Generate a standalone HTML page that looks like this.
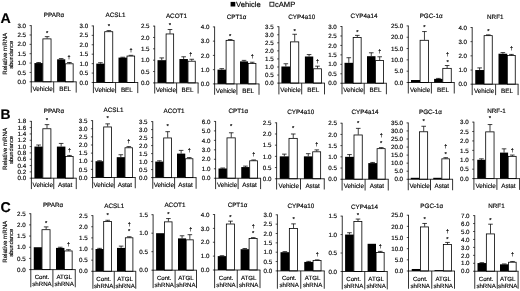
<!DOCTYPE html>
<html lang="en">
<head>
<meta charset="utf-8">
<title>Figure</title>
<style>
html,body{margin:0;padding:0;background:#fff;}
body{width:520px;height:291px;overflow:hidden;}
svg{display:block;font-family:"Liberation Sans", sans-serif;fill:#000;stroke:#000;}
text{stroke:#000;stroke-width:0.15px;text-rendering:geometricPrecision;}
rect{stroke-width:0;}
rect.w{fill:#fff;stroke-width:0.8px;}
</style>
</head>
<body>
<svg width="520" height="291" viewBox="0 0 520 291">
<defs><filter id="soft" x="0" y="0" width="520" height="291" filterUnits="userSpaceOnUse"><feGaussianBlur stdDeviation="0.3"/></filter></defs>
<rect x="0" y="0" width="520" height="291" fill="#fff" stroke="none"/>
<g filter="url(#soft)">
<g>
<text x="54" y="16.85" font-size="6.3" text-anchor="middle">PPARα</text>
<line x1="29.55" y1="81.8" x2="31.25" y2="81.8" stroke-width="0.7"/>
<text x="26.05" y="83.95" font-size="6.2" text-anchor="end">0.0</text>
<line x1="29.55" y1="72.43" x2="31.25" y2="72.43" stroke-width="0.7"/>
<text x="26.05" y="74.58" font-size="6.2" text-anchor="end">0.5</text>
<line x1="29.55" y1="63.07" x2="31.25" y2="63.07" stroke-width="0.7"/>
<text x="26.05" y="65.22" font-size="6.2" text-anchor="end">1.0</text>
<line x1="29.55" y1="53.7" x2="31.25" y2="53.7" stroke-width="0.7"/>
<text x="26.05" y="55.85" font-size="6.2" text-anchor="end">1.5</text>
<line x1="29.55" y1="44.33" x2="31.25" y2="44.33" stroke-width="0.7"/>
<text x="26.05" y="46.48" font-size="6.2" text-anchor="end">2.0</text>
<line x1="29.55" y1="34.97" x2="31.25" y2="34.97" stroke-width="0.7"/>
<text x="26.05" y="37.12" font-size="6.2" text-anchor="end">2.5</text>
<line x1="29.55" y1="25.6" x2="31.25" y2="25.6" stroke-width="0.7"/>
<text x="26.05" y="27.75" font-size="6.2" text-anchor="end">3.0</text>
<rect x="34.4" y="63.07" width="8.4" height="18.73"/>
<line x1="38.6" y1="63.07" x2="38.6" y2="62.5" stroke-width="0.75"/>
<line x1="36.3" y1="62.5" x2="40.9" y2="62.5" stroke-width="0.75"/>
<rect x="42.9" y="38.88" width="8.15" height="42.92" class="w"/>
<line x1="47.1" y1="38.53" x2="47.1" y2="36.65" stroke-width="0.75"/>
<line x1="44.8" y1="36.65" x2="49.4" y2="36.65" stroke-width="0.75"/>
<text x="47.1" y="34.95" font-size="5.8" text-anchor="middle">*</text>
<rect x="57.1" y="59.32" width="8.15" height="22.48"/>
<line x1="61.17" y1="59.32" x2="61.17" y2="58.57" stroke-width="0.75"/>
<line x1="58.88" y1="58.57" x2="63.47" y2="58.57" stroke-width="0.75"/>
<rect x="65.35" y="63.79" width="7.8" height="18.01" class="w"/>
<line x1="69.38" y1="63.44" x2="69.38" y2="62.5" stroke-width="0.75"/>
<line x1="67.08" y1="62.5" x2="71.67" y2="62.5" stroke-width="0.75"/>
<text x="68.97" y="58.85" font-size="5.4" text-anchor="middle">†</text>
<line x1="31.25" y1="25.25" x2="31.25" y2="92.6" stroke-width="0.8"/>
<line x1="30.85" y1="81.8" x2="76.6" y2="81.8" stroke-width="0.8"/>
<line x1="53.7" y1="81.8" x2="53.7" y2="92.6" stroke-width="0.8"/>
<line x1="76.2" y1="81.8" x2="76.2" y2="92.6" stroke-width="0.8"/>
<text x="42.68" y="91" font-size="6.3" text-anchor="middle">Vehicle</text>
<text x="65.15" y="91" font-size="6.3" text-anchor="middle">BEL</text>
</g>
<g>
<text x="115.6" y="16.95" font-size="6.3" text-anchor="middle">ACSL1</text>
<line x1="91.7" y1="82.5" x2="93.4" y2="82.5" stroke-width="0.7"/>
<text x="88.2" y="84.65" font-size="6.2" text-anchor="end">0.0</text>
<line x1="91.7" y1="73.07" x2="93.4" y2="73.07" stroke-width="0.7"/>
<text x="88.2" y="75.22" font-size="6.2" text-anchor="end">0.5</text>
<line x1="91.7" y1="63.63" x2="93.4" y2="63.63" stroke-width="0.7"/>
<text x="88.2" y="65.78" font-size="6.2" text-anchor="end">1.0</text>
<line x1="91.7" y1="54.2" x2="93.4" y2="54.2" stroke-width="0.7"/>
<text x="88.2" y="56.35" font-size="6.2" text-anchor="end">1.5</text>
<line x1="91.7" y1="44.77" x2="93.4" y2="44.77" stroke-width="0.7"/>
<text x="88.2" y="46.92" font-size="6.2" text-anchor="end">2.0</text>
<line x1="91.7" y1="35.33" x2="93.4" y2="35.33" stroke-width="0.7"/>
<text x="88.2" y="37.48" font-size="6.2" text-anchor="end">2.5</text>
<line x1="91.7" y1="25.9" x2="93.4" y2="25.9" stroke-width="0.7"/>
<text x="88.2" y="28.05" font-size="6.2" text-anchor="end">3.0</text>
<rect x="96.25" y="63.63" width="8.35" height="18.87"/>
<line x1="100.42" y1="63.63" x2="100.42" y2="62.69" stroke-width="0.75"/>
<line x1="98.12" y1="62.69" x2="102.72" y2="62.69" stroke-width="0.75"/>
<rect x="104.7" y="31.72" width="8.05" height="50.78" class="w"/>
<line x1="108.85" y1="31.37" x2="108.85" y2="30.62" stroke-width="0.75"/>
<line x1="106.55" y1="30.62" x2="111.15" y2="30.62" stroke-width="0.75"/>
<text x="108.85" y="28.05" font-size="5.8" text-anchor="middle">*</text>
<rect x="118.5" y="57.6" width="8.4" height="24.9"/>
<line x1="122.7" y1="57.6" x2="122.7" y2="57.22" stroke-width="0.75"/>
<line x1="120.4" y1="57.22" x2="125" y2="57.22" stroke-width="0.75"/>
<rect x="127" y="56.06" width="7.65" height="26.44" class="w"/>
<line x1="130.95" y1="55.71" x2="130.95" y2="55.33" stroke-width="0.75"/>
<line x1="128.65" y1="55.33" x2="133.25" y2="55.33" stroke-width="0.75"/>
<text x="130.95" y="52.35" font-size="5.4" text-anchor="middle">†</text>
<line x1="93.4" y1="25.55" x2="93.4" y2="93.1" stroke-width="0.8"/>
<line x1="93" y1="82.5" x2="138.15" y2="82.5" stroke-width="0.8"/>
<line x1="115.6" y1="82.5" x2="115.6" y2="93.1" stroke-width="0.8"/>
<line x1="137.75" y1="82.5" x2="137.75" y2="93.1" stroke-width="0.8"/>
<text x="104.7" y="91.7" font-size="6.3" text-anchor="middle">Vehicle</text>
<text x="126.88" y="91.7" font-size="6.3" text-anchor="middle">BEL</text>
</g>
<g>
<text x="176.4" y="17.55" font-size="6.3" text-anchor="middle">ACOT1</text>
<line x1="153" y1="82.9" x2="154.7" y2="82.9" stroke-width="0.7"/>
<text x="149.5" y="85.05" font-size="6.2" text-anchor="end">0.0</text>
<line x1="153" y1="71.54" x2="154.7" y2="71.54" stroke-width="0.7"/>
<text x="149.5" y="73.69" font-size="6.2" text-anchor="end">0.5</text>
<line x1="153" y1="60.18" x2="154.7" y2="60.18" stroke-width="0.7"/>
<text x="149.5" y="62.33" font-size="6.2" text-anchor="end">1.0</text>
<line x1="153" y1="48.82" x2="154.7" y2="48.82" stroke-width="0.7"/>
<text x="149.5" y="50.97" font-size="6.2" text-anchor="end">1.5</text>
<line x1="153" y1="37.46" x2="154.7" y2="37.46" stroke-width="0.7"/>
<text x="149.5" y="39.61" font-size="6.2" text-anchor="end">2.0</text>
<line x1="153" y1="26.1" x2="154.7" y2="26.1" stroke-width="0.7"/>
<text x="149.5" y="28.25" font-size="6.2" text-anchor="end">2.5</text>
<rect x="157.5" y="60.18" width="8.5" height="22.72"/>
<line x1="161.75" y1="60.18" x2="161.75" y2="57.91" stroke-width="0.75"/>
<line x1="159.45" y1="57.91" x2="164.05" y2="57.91" stroke-width="0.75"/>
<rect x="166.1" y="33.95" width="7.55" height="48.95" class="w"/>
<line x1="170" y1="33.6" x2="170" y2="29.51" stroke-width="0.75"/>
<line x1="167.7" y1="29.51" x2="172.3" y2="29.51" stroke-width="0.75"/>
<text x="170" y="27.1" font-size="5.8" text-anchor="middle">*</text>
<rect x="179.4" y="59.04" width="8.5" height="23.86"/>
<line x1="183.65" y1="59.04" x2="183.65" y2="56.77" stroke-width="0.75"/>
<line x1="181.35" y1="56.77" x2="185.95" y2="56.77" stroke-width="0.75"/>
<rect x="188" y="61.21" width="7.25" height="21.69" class="w"/>
<line x1="191.75" y1="60.86" x2="191.75" y2="59.27" stroke-width="0.75"/>
<line x1="189.45" y1="59.27" x2="194.05" y2="59.27" stroke-width="0.75"/>
<text x="190.85" y="56.35" font-size="5.4" text-anchor="middle">†</text>
<line x1="154.7" y1="25.75" x2="154.7" y2="93.5" stroke-width="0.8"/>
<line x1="154.3" y1="82.9" x2="198.5" y2="82.9" stroke-width="0.8"/>
<line x1="176.6" y1="82.9" x2="176.6" y2="93.5" stroke-width="0.8"/>
<line x1="198.1" y1="82.9" x2="198.1" y2="93.5" stroke-width="0.8"/>
<text x="165.85" y="92.1" font-size="6.3" text-anchor="middle">Vehicle</text>
<text x="187.55" y="92.1" font-size="6.3" text-anchor="middle">BEL</text>
</g>
<g>
<text x="236.6" y="18.75" font-size="6.3" text-anchor="middle">CPT1α</text>
<line x1="212.9" y1="83.9" x2="214.6" y2="83.9" stroke-width="0.7"/>
<text x="209.4" y="86.05" font-size="6.2" text-anchor="end">0.0</text>
<line x1="212.9" y1="69.65" x2="214.6" y2="69.65" stroke-width="0.7"/>
<text x="209.4" y="71.8" font-size="6.2" text-anchor="end">1.0</text>
<line x1="212.9" y1="55.4" x2="214.6" y2="55.4" stroke-width="0.7"/>
<text x="209.4" y="57.55" font-size="6.2" text-anchor="end">2.0</text>
<line x1="212.9" y1="41.15" x2="214.6" y2="41.15" stroke-width="0.7"/>
<text x="209.4" y="43.3" font-size="6.2" text-anchor="end">3.0</text>
<line x1="212.9" y1="26.9" x2="214.6" y2="26.9" stroke-width="0.7"/>
<text x="209.4" y="29.05" font-size="6.2" text-anchor="end">4.0</text>
<rect x="217.5" y="69.65" width="8.5" height="14.25"/>
<line x1="221.75" y1="69.65" x2="221.75" y2="68.65" stroke-width="0.75"/>
<line x1="219.45" y1="68.65" x2="224.05" y2="68.65" stroke-width="0.75"/>
<rect x="226.1" y="40.36" width="7.95" height="43.54" class="w"/>
<line x1="230.2" y1="40.01" x2="230.2" y2="39.58" stroke-width="0.75"/>
<line x1="227.9" y1="39.58" x2="232.5" y2="39.58" stroke-width="0.75"/>
<text x="230.2" y="37.85" font-size="5.8" text-anchor="middle">*</text>
<rect x="240" y="61.39" width="8.1" height="22.52"/>
<line x1="244.05" y1="61.39" x2="244.05" y2="60.39" stroke-width="0.75"/>
<line x1="241.75" y1="60.39" x2="246.35" y2="60.39" stroke-width="0.75"/>
<rect x="248.2" y="63.59" width="7.7" height="20.31" class="w"/>
<line x1="252.18" y1="63.24" x2="252.18" y2="62.24" stroke-width="0.75"/>
<line x1="249.88" y1="62.24" x2="254.48" y2="62.24" stroke-width="0.75"/>
<text x="252.18" y="57.75" font-size="5.4" text-anchor="middle">†</text>
<line x1="214.6" y1="26.55" x2="214.6" y2="94.75" stroke-width="0.8"/>
<line x1="214.2" y1="83.9" x2="259.4" y2="83.9" stroke-width="0.8"/>
<line x1="236.9" y1="83.9" x2="236.9" y2="94.75" stroke-width="0.8"/>
<line x1="259" y1="83.9" x2="259" y2="94.75" stroke-width="0.8"/>
<text x="225.95" y="93.1" font-size="6.3" text-anchor="middle">Vehicle</text>
<text x="248.15" y="93.1" font-size="6.3" text-anchor="middle">BEL</text>
</g>
<g>
<text x="301.8" y="18.65" font-size="6.3" text-anchor="middle">CYP4a10</text>
<line x1="277.2" y1="83.1" x2="278.9" y2="83.1" stroke-width="0.7"/>
<text x="273.7" y="85.25" font-size="6.2" text-anchor="end">0.0</text>
<line x1="277.2" y1="75.04" x2="278.9" y2="75.04" stroke-width="0.7"/>
<text x="273.7" y="77.19" font-size="6.2" text-anchor="end">0.5</text>
<line x1="277.2" y1="66.99" x2="278.9" y2="66.99" stroke-width="0.7"/>
<text x="273.7" y="69.14" font-size="6.2" text-anchor="end">1.0</text>
<line x1="277.2" y1="58.93" x2="278.9" y2="58.93" stroke-width="0.7"/>
<text x="273.7" y="61.08" font-size="6.2" text-anchor="end">1.5</text>
<line x1="277.2" y1="50.87" x2="278.9" y2="50.87" stroke-width="0.7"/>
<text x="273.7" y="53.02" font-size="6.2" text-anchor="end">2.0</text>
<line x1="277.2" y1="42.81" x2="278.9" y2="42.81" stroke-width="0.7"/>
<text x="273.7" y="44.96" font-size="6.2" text-anchor="end">2.5</text>
<line x1="277.2" y1="34.76" x2="278.9" y2="34.76" stroke-width="0.7"/>
<text x="273.7" y="36.91" font-size="6.2" text-anchor="end">3.0</text>
<line x1="277.2" y1="26.7" x2="278.9" y2="26.7" stroke-width="0.7"/>
<text x="273.7" y="28.85" font-size="6.2" text-anchor="end">3.5</text>
<rect x="281.4" y="66.5" width="8.9" height="16.6"/>
<line x1="285.85" y1="66.5" x2="285.85" y2="63.76" stroke-width="0.75"/>
<line x1="283.55" y1="63.76" x2="288.15" y2="63.76" stroke-width="0.75"/>
<rect x="290.4" y="41.88" width="8.35" height="41.22" class="w"/>
<line x1="294.7" y1="41.53" x2="294.7" y2="34.27" stroke-width="0.75"/>
<line x1="292.4" y1="34.27" x2="297" y2="34.27" stroke-width="0.75"/>
<text x="294.7" y="32.85" font-size="5.8" text-anchor="middle">*</text>
<rect x="304.9" y="56.51" width="8.35" height="26.59"/>
<line x1="309.07" y1="56.51" x2="309.07" y2="54.58" stroke-width="0.75"/>
<line x1="306.77" y1="54.58" x2="311.38" y2="54.58" stroke-width="0.75"/>
<rect x="313.35" y="68.79" width="8.05" height="14.31" class="w"/>
<line x1="317.5" y1="68.44" x2="317.5" y2="66.18" stroke-width="0.75"/>
<line x1="315.2" y1="66.18" x2="319.8" y2="66.18" stroke-width="0.75"/>
<text x="317.5" y="62.55" font-size="5.4" text-anchor="middle">†</text>
<line x1="278.9" y1="26.35" x2="278.9" y2="94.4" stroke-width="0.8"/>
<line x1="278.5" y1="83.1" x2="324.9" y2="83.1" stroke-width="0.8"/>
<line x1="301.7" y1="83.1" x2="301.7" y2="94.4" stroke-width="0.8"/>
<line x1="324.5" y1="83.1" x2="324.5" y2="94.4" stroke-width="0.8"/>
<text x="290.5" y="92.3" font-size="6.3" text-anchor="middle">Vehicle</text>
<text x="313.3" y="92.3" font-size="6.3" text-anchor="middle">BEL</text>
</g>
<g>
<text x="364.1" y="18.3" font-size="6.3" text-anchor="middle">CYP4a14</text>
<line x1="340.3" y1="83.25" x2="342" y2="83.25" stroke-width="0.7"/>
<text x="336.8" y="85.4" font-size="6.2" text-anchor="end">0.0</text>
<line x1="340.3" y1="73.79" x2="342" y2="73.79" stroke-width="0.7"/>
<text x="336.8" y="75.94" font-size="6.2" text-anchor="end">0.5</text>
<line x1="340.3" y1="64.33" x2="342" y2="64.33" stroke-width="0.7"/>
<text x="336.8" y="66.48" font-size="6.2" text-anchor="end">1.0</text>
<line x1="340.3" y1="54.88" x2="342" y2="54.88" stroke-width="0.7"/>
<text x="336.8" y="57.02" font-size="6.2" text-anchor="end">1.5</text>
<line x1="340.3" y1="45.42" x2="342" y2="45.42" stroke-width="0.7"/>
<text x="336.8" y="47.57" font-size="6.2" text-anchor="end">2.0</text>
<line x1="340.3" y1="35.96" x2="342" y2="35.96" stroke-width="0.7"/>
<text x="336.8" y="38.11" font-size="6.2" text-anchor="end">2.5</text>
<line x1="340.3" y1="26.5" x2="342" y2="26.5" stroke-width="0.7"/>
<text x="336.8" y="28.65" font-size="6.2" text-anchor="end">3.0</text>
<rect x="344.5" y="62.82" width="8.6" height="20.43"/>
<line x1="348.8" y1="62.82" x2="348.8" y2="57.71" stroke-width="0.75"/>
<line x1="346.5" y1="57.71" x2="351.1" y2="57.71" stroke-width="0.75"/>
<rect x="353.2" y="37.44" width="7.95" height="45.81" class="w"/>
<line x1="357.3" y1="37.09" x2="357.3" y2="35.39" stroke-width="0.75"/>
<line x1="355" y1="35.39" x2="359.6" y2="35.39" stroke-width="0.75"/>
<text x="357.3" y="33.6" font-size="5.8" text-anchor="middle">*</text>
<rect x="367" y="56.2" width="8.5" height="27.05"/>
<line x1="371.25" y1="56.2" x2="371.25" y2="52.79" stroke-width="0.75"/>
<line x1="368.95" y1="52.79" x2="373.55" y2="52.79" stroke-width="0.75"/>
<rect x="375.6" y="60.52" width="7.95" height="22.73" class="w"/>
<line x1="379.7" y1="60.17" x2="379.7" y2="56.77" stroke-width="0.75"/>
<line x1="377.4" y1="56.77" x2="382" y2="56.77" stroke-width="0.75"/>
<text x="379.7" y="52.55" font-size="5.4" text-anchor="middle">†</text>
<line x1="342" y1="26.15" x2="342" y2="94.25" stroke-width="0.8"/>
<line x1="341.6" y1="83.25" x2="386.8" y2="83.25" stroke-width="0.8"/>
<line x1="364.2" y1="83.25" x2="364.2" y2="94.25" stroke-width="0.8"/>
<line x1="386.4" y1="83.25" x2="386.4" y2="94.25" stroke-width="0.8"/>
<text x="353.3" y="92.45" font-size="6.3" text-anchor="middle">Vehicle</text>
<text x="375.5" y="92.45" font-size="6.3" text-anchor="middle">BEL</text>
</g>
<g>
<text x="431.1" y="17.55" font-size="6.3" text-anchor="middle">PGC-1α</text>
<line x1="406.6" y1="82.5" x2="408.3" y2="82.5" stroke-width="0.7"/>
<text x="403.1" y="84.65" font-size="6.2" text-anchor="end">0.0</text>
<line x1="406.6" y1="71.18" x2="408.3" y2="71.18" stroke-width="0.7"/>
<text x="403.1" y="73.33" font-size="6.2" text-anchor="end">5.0</text>
<line x1="406.6" y1="59.86" x2="408.3" y2="59.86" stroke-width="0.7"/>
<text x="403.1" y="62.01" font-size="6.2" text-anchor="end">10.0</text>
<line x1="406.6" y1="48.54" x2="408.3" y2="48.54" stroke-width="0.7"/>
<text x="403.1" y="50.69" font-size="6.2" text-anchor="end">15.0</text>
<line x1="406.6" y1="37.22" x2="408.3" y2="37.22" stroke-width="0.7"/>
<text x="403.1" y="39.37" font-size="6.2" text-anchor="end">20.0</text>
<line x1="406.6" y1="25.9" x2="408.3" y2="25.9" stroke-width="0.7"/>
<text x="403.1" y="28.05" font-size="6.2" text-anchor="end">25.0</text>
<rect x="411" y="80.01" width="9" height="2.49"/>
<rect x="420.1" y="40.29" width="8.45" height="42.21" class="w"/>
<line x1="424.45" y1="39.94" x2="424.45" y2="31.56" stroke-width="0.75"/>
<line x1="422.15" y1="31.56" x2="426.75" y2="31.56" stroke-width="0.75"/>
<text x="424.45" y="29.25" font-size="5.8" text-anchor="middle">*</text>
<rect x="434.1" y="78.88" width="8.6" height="3.62"/>
<line x1="438.4" y1="78.88" x2="438.4" y2="78.42" stroke-width="0.75"/>
<line x1="436.1" y1="78.42" x2="440.7" y2="78.42" stroke-width="0.75"/>
<rect x="442.8" y="68.36" width="8.45" height="14.14" class="w"/>
<line x1="447.15" y1="68.01" x2="447.15" y2="65.52" stroke-width="0.75"/>
<line x1="444.85" y1="65.52" x2="449.45" y2="65.52" stroke-width="0.75"/>
<text x="447.55" y="63.95" font-size="5.8" text-anchor="middle">*</text>
<text x="447.55" y="56.35" font-size="5.4" text-anchor="middle">†</text>
<line x1="408.3" y1="25.55" x2="408.3" y2="93.5" stroke-width="0.8"/>
<line x1="407.9" y1="82.5" x2="454.65" y2="82.5" stroke-width="0.8"/>
<line x1="431.4" y1="82.5" x2="431.4" y2="93.5" stroke-width="0.8"/>
<line x1="454.25" y1="82.5" x2="454.25" y2="93.5" stroke-width="0.8"/>
<text x="420.05" y="91.7" font-size="6.3" text-anchor="middle">Vehicle</text>
<text x="443.02" y="91.7" font-size="6.3" text-anchor="middle">BEL</text>
</g>
<g>
<text x="495.3" y="19.25" font-size="6.3" text-anchor="middle">NRF1</text>
<line x1="470.5" y1="84.2" x2="472.2" y2="84.2" stroke-width="0.7"/>
<text x="467" y="86.35" font-size="6.2" text-anchor="end">0.0</text>
<line x1="470.5" y1="70.03" x2="472.2" y2="70.03" stroke-width="0.7"/>
<text x="467" y="72.18" font-size="6.2" text-anchor="end">1.0</text>
<line x1="470.5" y1="55.85" x2="472.2" y2="55.85" stroke-width="0.7"/>
<text x="467" y="58" font-size="6.2" text-anchor="end">2.0</text>
<line x1="470.5" y1="41.67" x2="472.2" y2="41.67" stroke-width="0.7"/>
<text x="467" y="43.82" font-size="6.2" text-anchor="end">3.0</text>
<line x1="470.5" y1="27.5" x2="472.2" y2="27.5" stroke-width="0.7"/>
<text x="467" y="29.65" font-size="6.2" text-anchor="end">4.0</text>
<rect x="475.25" y="70.03" width="8.75" height="14.17"/>
<line x1="479.62" y1="70.03" x2="479.62" y2="67.9" stroke-width="0.75"/>
<line x1="477.32" y1="67.9" x2="481.93" y2="67.9" stroke-width="0.75"/>
<rect x="484.1" y="35.65" width="8.15" height="48.55" class="w"/>
<line x1="488.3" y1="35.3" x2="488.3" y2="34.87" stroke-width="0.75"/>
<line x1="486" y1="34.87" x2="490.6" y2="34.87" stroke-width="0.75"/>
<text x="488.3" y="32.85" font-size="5.8" text-anchor="middle">*</text>
<rect x="498.5" y="53.72" width="8.75" height="30.48"/>
<line x1="502.88" y1="53.72" x2="502.88" y2="52.59" stroke-width="0.75"/>
<line x1="500.57" y1="52.59" x2="505.18" y2="52.59" stroke-width="0.75"/>
<rect x="507.35" y="55.49" width="7.9" height="28.71" class="w"/>
<line x1="511.43" y1="55.14" x2="511.43" y2="54.43" stroke-width="0.75"/>
<line x1="509.12" y1="54.43" x2="513.73" y2="54.43" stroke-width="0.75"/>
<text x="511.43" y="50.25" font-size="5.4" text-anchor="middle">†</text>
<line x1="472.2" y1="27.15" x2="472.2" y2="95.1" stroke-width="0.8"/>
<line x1="471.8" y1="84.2" x2="518.5" y2="84.2" stroke-width="0.8"/>
<line x1="495.6" y1="84.2" x2="495.6" y2="95.1" stroke-width="0.8"/>
<line x1="518.1" y1="84.2" x2="518.1" y2="95.1" stroke-width="0.8"/>
<text x="484.1" y="93.4" font-size="6.3" text-anchor="middle">Vehicle</text>
<text x="507.05" y="93.4" font-size="6.3" text-anchor="middle">BEL</text>
</g>
<g>
<text x="53.9" y="112.75" font-size="6.3" text-anchor="middle">PPARα</text>
<line x1="29.7" y1="178.2" x2="31.4" y2="178.2" stroke-width="0.7"/>
<text x="26.2" y="180.35" font-size="6.2" text-anchor="end">0.0</text>
<line x1="29.7" y1="171.88" x2="31.4" y2="171.88" stroke-width="0.7"/>
<text x="26.2" y="174.03" font-size="6.2" text-anchor="end">0.2</text>
<line x1="29.7" y1="165.56" x2="31.4" y2="165.56" stroke-width="0.7"/>
<text x="26.2" y="167.71" font-size="6.2" text-anchor="end">0.4</text>
<line x1="29.7" y1="159.23" x2="31.4" y2="159.23" stroke-width="0.7"/>
<text x="26.2" y="161.38" font-size="6.2" text-anchor="end">0.6</text>
<line x1="29.7" y1="152.91" x2="31.4" y2="152.91" stroke-width="0.7"/>
<text x="26.2" y="155.06" font-size="6.2" text-anchor="end">0.8</text>
<line x1="29.7" y1="146.59" x2="31.4" y2="146.59" stroke-width="0.7"/>
<text x="26.2" y="148.74" font-size="6.2" text-anchor="end">1.0</text>
<line x1="29.7" y1="140.27" x2="31.4" y2="140.27" stroke-width="0.7"/>
<text x="26.2" y="142.42" font-size="6.2" text-anchor="end">1.2</text>
<line x1="29.7" y1="133.94" x2="31.4" y2="133.94" stroke-width="0.7"/>
<text x="26.2" y="136.09" font-size="6.2" text-anchor="end">1.4</text>
<line x1="29.7" y1="127.62" x2="31.4" y2="127.62" stroke-width="0.7"/>
<text x="26.2" y="129.77" font-size="6.2" text-anchor="end">1.6</text>
<line x1="29.7" y1="121.3" x2="31.4" y2="121.3" stroke-width="0.7"/>
<text x="26.2" y="123.45" font-size="6.2" text-anchor="end">1.8</text>
<rect x="34.4" y="146.59" width="8.35" height="31.61"/>
<line x1="38.58" y1="146.59" x2="38.58" y2="145.01" stroke-width="0.75"/>
<line x1="36.28" y1="145.01" x2="40.88" y2="145.01" stroke-width="0.75"/>
<rect x="42.85" y="128.76" width="8.05" height="49.44" class="w"/>
<line x1="47" y1="128.41" x2="47" y2="124.62" stroke-width="0.75"/>
<line x1="44.7" y1="124.62" x2="49.3" y2="124.62" stroke-width="0.75"/>
<text x="47" y="122.35" font-size="5.8" text-anchor="middle">*</text>
<rect x="56.9" y="146.59" width="8.5" height="31.61"/>
<line x1="61.15" y1="146.59" x2="61.15" y2="143.43" stroke-width="0.75"/>
<line x1="58.85" y1="143.43" x2="63.45" y2="143.43" stroke-width="0.75"/>
<rect x="65.5" y="156.42" width="7.65" height="21.78" class="w"/>
<line x1="69.45" y1="156.07" x2="69.45" y2="155.44" stroke-width="0.75"/>
<line x1="67.15" y1="155.44" x2="71.75" y2="155.44" stroke-width="0.75"/>
<text x="69.45" y="151.69" font-size="5.4" text-anchor="middle">†</text>
<line x1="31.4" y1="120.95" x2="31.4" y2="189.1" stroke-width="0.8"/>
<line x1="31" y1="178.2" x2="76.65" y2="178.2" stroke-width="0.8"/>
<line x1="53.75" y1="178.2" x2="53.75" y2="189.1" stroke-width="0.8"/>
<line x1="76.25" y1="178.2" x2="76.25" y2="189.1" stroke-width="0.8"/>
<text x="42.78" y="187.4" font-size="6.3" text-anchor="middle">Vehicle</text>
<text x="65.2" y="187.4" font-size="6.3" text-anchor="middle">Astat</text>
</g>
<g>
<text x="113.6" y="112" font-size="6.3" text-anchor="middle">ACSL1</text>
<line x1="90.9" y1="177.5" x2="92.6" y2="177.5" stroke-width="0.7"/>
<text x="87.4" y="179.65" font-size="6.2" text-anchor="end">0.0</text>
<line x1="90.9" y1="169.37" x2="92.6" y2="169.37" stroke-width="0.7"/>
<text x="87.4" y="171.52" font-size="6.2" text-anchor="end">0.5</text>
<line x1="90.9" y1="161.24" x2="92.6" y2="161.24" stroke-width="0.7"/>
<text x="87.4" y="163.39" font-size="6.2" text-anchor="end">1.0</text>
<line x1="90.9" y1="153.11" x2="92.6" y2="153.11" stroke-width="0.7"/>
<text x="87.4" y="155.26" font-size="6.2" text-anchor="end">1.5</text>
<line x1="90.9" y1="144.99" x2="92.6" y2="144.99" stroke-width="0.7"/>
<text x="87.4" y="147.14" font-size="6.2" text-anchor="end">2.0</text>
<line x1="90.9" y1="136.86" x2="92.6" y2="136.86" stroke-width="0.7"/>
<text x="87.4" y="139.01" font-size="6.2" text-anchor="end">2.5</text>
<line x1="90.9" y1="128.73" x2="92.6" y2="128.73" stroke-width="0.7"/>
<text x="87.4" y="130.88" font-size="6.2" text-anchor="end">3.0</text>
<line x1="90.9" y1="120.6" x2="92.6" y2="120.6" stroke-width="0.7"/>
<text x="87.4" y="122.75" font-size="6.2" text-anchor="end">3.5</text>
<rect x="95.5" y="161.24" width="8.1" height="16.26"/>
<line x1="99.55" y1="161.24" x2="99.55" y2="160.76" stroke-width="0.75"/>
<line x1="97.25" y1="160.76" x2="101.85" y2="160.76" stroke-width="0.75"/>
<rect x="103.7" y="126.97" width="7.7" height="50.53" class="w"/>
<line x1="107.67" y1="126.62" x2="107.67" y2="123.85" stroke-width="0.75"/>
<line x1="105.38" y1="123.85" x2="109.97" y2="123.85" stroke-width="0.75"/>
<text x="107.67" y="120.35" font-size="5.8" text-anchor="middle">*</text>
<rect x="116.75" y="157.18" width="8.15" height="20.32"/>
<line x1="120.83" y1="157.18" x2="120.83" y2="154.74" stroke-width="0.75"/>
<line x1="118.53" y1="154.74" x2="123.12" y2="154.74" stroke-width="0.75"/>
<rect x="125" y="147.77" width="7.4" height="29.73" class="w"/>
<line x1="128.82" y1="147.42" x2="128.82" y2="146.61" stroke-width="0.75"/>
<line x1="126.52" y1="146.61" x2="131.12" y2="146.61" stroke-width="0.75"/>
<text x="128.82" y="142.75" font-size="5.4" text-anchor="middle">†</text>
<line x1="92.6" y1="120.25" x2="92.6" y2="188.25" stroke-width="0.8"/>
<line x1="92.2" y1="177.5" x2="135.65" y2="177.5" stroke-width="0.8"/>
<line x1="114.25" y1="177.5" x2="114.25" y2="188.25" stroke-width="0.8"/>
<line x1="135.25" y1="177.5" x2="135.25" y2="188.25" stroke-width="0.8"/>
<text x="103.62" y="186.7" font-size="6.3" text-anchor="middle">Vehicle</text>
<text x="124.95" y="186.7" font-size="6.3" text-anchor="middle">Astat</text>
</g>
<g>
<text x="174.1" y="112.75" font-size="6.3" text-anchor="middle">ACOT1</text>
<line x1="151.05" y1="177.6" x2="152.75" y2="177.6" stroke-width="0.7"/>
<text x="147.55" y="179.75" font-size="6.2" text-anchor="end">0.0</text>
<line x1="151.05" y1="169.6" x2="152.75" y2="169.6" stroke-width="0.7"/>
<text x="147.55" y="171.75" font-size="6.2" text-anchor="end">0.5</text>
<line x1="151.05" y1="161.6" x2="152.75" y2="161.6" stroke-width="0.7"/>
<text x="147.55" y="163.75" font-size="6.2" text-anchor="end">1.0</text>
<line x1="151.05" y1="153.6" x2="152.75" y2="153.6" stroke-width="0.7"/>
<text x="147.55" y="155.75" font-size="6.2" text-anchor="end">1.5</text>
<line x1="151.05" y1="145.6" x2="152.75" y2="145.6" stroke-width="0.7"/>
<text x="147.55" y="147.75" font-size="6.2" text-anchor="end">2.0</text>
<line x1="151.05" y1="137.6" x2="152.75" y2="137.6" stroke-width="0.7"/>
<text x="147.55" y="139.75" font-size="6.2" text-anchor="end">2.5</text>
<line x1="151.05" y1="129.6" x2="152.75" y2="129.6" stroke-width="0.7"/>
<text x="147.55" y="131.75" font-size="6.2" text-anchor="end">3.0</text>
<line x1="151.05" y1="121.6" x2="152.75" y2="121.6" stroke-width="0.7"/>
<text x="147.55" y="123.75" font-size="6.2" text-anchor="end">3.5</text>
<rect x="155.25" y="161.6" width="8.35" height="16"/>
<line x1="159.43" y1="161.6" x2="159.43" y2="160.8" stroke-width="0.75"/>
<line x1="157.12" y1="160.8" x2="161.73" y2="160.8" stroke-width="0.75"/>
<rect x="163.7" y="137.95" width="7.7" height="39.65" class="w"/>
<line x1="167.68" y1="137.6" x2="167.68" y2="131.68" stroke-width="0.75"/>
<line x1="165.38" y1="131.68" x2="169.98" y2="131.68" stroke-width="0.75"/>
<text x="167.68" y="127.6" font-size="5.8" text-anchor="middle">*</text>
<rect x="177" y="153.6" width="8.25" height="24"/>
<line x1="181.12" y1="153.6" x2="181.12" y2="150.4" stroke-width="0.75"/>
<line x1="178.82" y1="150.4" x2="183.43" y2="150.4" stroke-width="0.75"/>
<rect x="185.35" y="158.75" width="7.55" height="18.85" class="w"/>
<line x1="189.25" y1="158.4" x2="189.25" y2="157.6" stroke-width="0.75"/>
<line x1="186.95" y1="157.6" x2="191.55" y2="157.6" stroke-width="0.75"/>
<text x="189.25" y="151.85" font-size="5.4" text-anchor="middle">†</text>
<line x1="152.75" y1="121.25" x2="152.75" y2="188.75" stroke-width="0.8"/>
<line x1="152.35" y1="177.6" x2="196.5" y2="177.6" stroke-width="0.8"/>
<line x1="174.6" y1="177.6" x2="174.6" y2="188.75" stroke-width="0.8"/>
<line x1="196.1" y1="177.6" x2="196.1" y2="188.75" stroke-width="0.8"/>
<text x="163.88" y="186.8" font-size="6.3" text-anchor="middle">Vehicle</text>
<text x="185.55" y="186.8" font-size="6.3" text-anchor="middle">Astat</text>
</g>
<g>
<text x="238.3" y="112.75" font-size="6.3" text-anchor="middle">CPT1α</text>
<line x1="213.9" y1="178.25" x2="215.6" y2="178.25" stroke-width="0.7"/>
<text x="210.4" y="180.4" font-size="6.2" text-anchor="end">0.0</text>
<line x1="213.9" y1="168.78" x2="215.6" y2="168.78" stroke-width="0.7"/>
<text x="210.4" y="170.93" font-size="6.2" text-anchor="end">1.0</text>
<line x1="213.9" y1="159.3" x2="215.6" y2="159.3" stroke-width="0.7"/>
<text x="210.4" y="161.45" font-size="6.2" text-anchor="end">2.0</text>
<line x1="213.9" y1="149.82" x2="215.6" y2="149.82" stroke-width="0.7"/>
<text x="210.4" y="151.97" font-size="6.2" text-anchor="end">3.0</text>
<line x1="213.9" y1="140.35" x2="215.6" y2="140.35" stroke-width="0.7"/>
<text x="210.4" y="142.5" font-size="6.2" text-anchor="end">4.0</text>
<line x1="213.9" y1="130.88" x2="215.6" y2="130.88" stroke-width="0.7"/>
<text x="210.4" y="133.03" font-size="6.2" text-anchor="end">5.0</text>
<line x1="213.9" y1="121.4" x2="215.6" y2="121.4" stroke-width="0.7"/>
<text x="210.4" y="123.55" font-size="6.2" text-anchor="end">6.0</text>
<rect x="218.5" y="168.49" width="8.4" height="9.76"/>
<line x1="222.7" y1="168.49" x2="222.7" y2="168.02" stroke-width="0.75"/>
<line x1="220.4" y1="168.02" x2="225" y2="168.02" stroke-width="0.75"/>
<rect x="227" y="137.86" width="8.25" height="40.39" class="w"/>
<line x1="231.25" y1="137.51" x2="231.25" y2="132.77" stroke-width="0.75"/>
<line x1="228.95" y1="132.77" x2="233.55" y2="132.77" stroke-width="0.75"/>
<text x="231.25" y="128.35" font-size="5.8" text-anchor="middle">*</text>
<rect x="241.25" y="167.07" width="8.35" height="11.18"/>
<line x1="245.43" y1="167.07" x2="245.43" y2="166.12" stroke-width="0.75"/>
<line x1="243.12" y1="166.12" x2="247.73" y2="166.12" stroke-width="0.75"/>
<rect x="249.7" y="160.79" width="7.7" height="17.46" class="w"/>
<line x1="253.68" y1="160.44" x2="253.68" y2="159.96" stroke-width="0.75"/>
<line x1="251.38" y1="159.96" x2="255.98" y2="159.96" stroke-width="0.75"/>
<text x="253.68" y="156.21" font-size="5.4" text-anchor="middle">†</text>
<line x1="215.6" y1="121.05" x2="215.6" y2="189.1" stroke-width="0.8"/>
<line x1="215.2" y1="178.25" x2="261" y2="178.25" stroke-width="0.8"/>
<line x1="238.1" y1="178.25" x2="238.1" y2="189.1" stroke-width="0.8"/>
<line x1="260.6" y1="178.25" x2="260.6" y2="189.1" stroke-width="0.8"/>
<text x="227.05" y="187.45" font-size="6.3" text-anchor="middle">Vehicle</text>
<text x="249.55" y="187.45" font-size="6.3" text-anchor="middle">Astat</text>
</g>
<g>
<text x="300.75" y="113.55" font-size="6.3" text-anchor="middle">CYP4a10</text>
<line x1="274.9" y1="178.75" x2="276.6" y2="178.75" stroke-width="0.7"/>
<text x="271.4" y="180.9" font-size="6.2" text-anchor="end">0.0</text>
<line x1="274.9" y1="167.56" x2="276.6" y2="167.56" stroke-width="0.7"/>
<text x="271.4" y="169.71" font-size="6.2" text-anchor="end">0.5</text>
<line x1="274.9" y1="156.37" x2="276.6" y2="156.37" stroke-width="0.7"/>
<text x="271.4" y="158.52" font-size="6.2" text-anchor="end">1.0</text>
<line x1="274.9" y1="145.18" x2="276.6" y2="145.18" stroke-width="0.7"/>
<text x="271.4" y="147.33" font-size="6.2" text-anchor="end">1.5</text>
<line x1="274.9" y1="133.99" x2="276.6" y2="133.99" stroke-width="0.7"/>
<text x="271.4" y="136.14" font-size="6.2" text-anchor="end">2.0</text>
<line x1="274.9" y1="122.8" x2="276.6" y2="122.8" stroke-width="0.7"/>
<text x="271.4" y="124.95" font-size="6.2" text-anchor="end">2.5</text>
<rect x="279.75" y="156.37" width="9.15" height="22.38"/>
<line x1="284.32" y1="156.37" x2="284.32" y2="154.13" stroke-width="0.75"/>
<line x1="282.02" y1="154.13" x2="286.62" y2="154.13" stroke-width="0.75"/>
<rect x="289" y="138.37" width="8.25" height="40.38" class="w"/>
<line x1="293.25" y1="138.02" x2="293.25" y2="133.99" stroke-width="0.75"/>
<line x1="290.95" y1="133.99" x2="295.55" y2="133.99" stroke-width="0.75"/>
<text x="293.25" y="130.35" font-size="5.8" text-anchor="middle">*</text>
<rect x="303.9" y="156.37" width="8.7" height="22.38"/>
<line x1="308.25" y1="156.37" x2="308.25" y2="153.68" stroke-width="0.75"/>
<line x1="305.95" y1="153.68" x2="310.55" y2="153.68" stroke-width="0.75"/>
<rect x="312.7" y="151.8" width="7.95" height="26.95" class="w"/>
<line x1="316.8" y1="151.45" x2="316.8" y2="149.88" stroke-width="0.75"/>
<line x1="314.5" y1="149.88" x2="319.1" y2="149.88" stroke-width="0.75"/>
<text x="316.8" y="146.13" font-size="5.4" text-anchor="middle">†</text>
<line x1="276.6" y1="122.45" x2="276.6" y2="189.5" stroke-width="0.8"/>
<line x1="276.2" y1="178.75" x2="324.65" y2="178.75" stroke-width="0.8"/>
<line x1="300.5" y1="178.75" x2="300.5" y2="189.5" stroke-width="0.8"/>
<line x1="324.25" y1="178.75" x2="324.25" y2="189.5" stroke-width="0.8"/>
<text x="288.75" y="187.95" font-size="6.3" text-anchor="middle">Vehicle</text>
<text x="312.57" y="187.95" font-size="6.3" text-anchor="middle">Astat</text>
</g>
<g>
<text x="365" y="114.15" font-size="6.3" text-anchor="middle">CYP4a14</text>
<line x1="340.4" y1="179.25" x2="342.1" y2="179.25" stroke-width="0.7"/>
<text x="336.9" y="181.4" font-size="6.2" text-anchor="end">0.0</text>
<line x1="340.4" y1="168.04" x2="342.1" y2="168.04" stroke-width="0.7"/>
<text x="336.9" y="170.19" font-size="6.2" text-anchor="end">0.5</text>
<line x1="340.4" y1="156.83" x2="342.1" y2="156.83" stroke-width="0.7"/>
<text x="336.9" y="158.98" font-size="6.2" text-anchor="end">1.0</text>
<line x1="340.4" y1="145.62" x2="342.1" y2="145.62" stroke-width="0.7"/>
<text x="336.9" y="147.77" font-size="6.2" text-anchor="end">1.5</text>
<line x1="340.4" y1="134.41" x2="342.1" y2="134.41" stroke-width="0.7"/>
<text x="336.9" y="136.56" font-size="6.2" text-anchor="end">2.0</text>
<line x1="340.4" y1="123.2" x2="342.1" y2="123.2" stroke-width="0.7"/>
<text x="336.9" y="125.35" font-size="6.2" text-anchor="end">2.5</text>
<rect x="345.1" y="156.83" width="8.8" height="22.42"/>
<line x1="349.5" y1="156.83" x2="349.5" y2="154.59" stroke-width="0.75"/>
<line x1="347.2" y1="154.59" x2="351.8" y2="154.59" stroke-width="0.75"/>
<rect x="354" y="134.98" width="8.25" height="44.27" class="w"/>
<line x1="358.25" y1="134.63" x2="358.25" y2="128.36" stroke-width="0.75"/>
<line x1="355.95" y1="128.36" x2="360.55" y2="128.36" stroke-width="0.75"/>
<text x="358.25" y="124.85" font-size="5.8" text-anchor="middle">*</text>
<rect x="368.25" y="163.11" width="8.75" height="16.14"/>
<line x1="372.62" y1="163.11" x2="372.62" y2="162.44" stroke-width="0.75"/>
<line x1="370.32" y1="162.44" x2="374.93" y2="162.44" stroke-width="0.75"/>
<rect x="377.1" y="148.66" width="8.05" height="30.59" class="w"/>
<line x1="381.25" y1="148.31" x2="381.25" y2="147.64" stroke-width="0.75"/>
<line x1="378.95" y1="147.64" x2="383.55" y2="147.64" stroke-width="0.75"/>
<text x="381.25" y="145.25" font-size="5.8" text-anchor="middle">*</text>
<text x="381.25" y="137.35" font-size="5.4" text-anchor="middle">†</text>
<line x1="342.1" y1="122.85" x2="342.1" y2="190.5" stroke-width="0.8"/>
<line x1="341.7" y1="179.25" x2="388.65" y2="179.25" stroke-width="0.8"/>
<line x1="365.1" y1="179.25" x2="365.1" y2="190.5" stroke-width="0.8"/>
<line x1="388.25" y1="179.25" x2="388.25" y2="190.5" stroke-width="0.8"/>
<text x="353.8" y="188.45" font-size="6.3" text-anchor="middle">Vehicle</text>
<text x="376.88" y="188.45" font-size="6.3" text-anchor="middle">Astat</text>
</g>
<g>
<text x="430.4" y="114.15" font-size="6.3" text-anchor="middle">PGC-1α</text>
<line x1="406.55" y1="179.25" x2="408.25" y2="179.25" stroke-width="0.7"/>
<text x="403.05" y="181.4" font-size="6.2" text-anchor="end">0.0</text>
<line x1="406.55" y1="171.2" x2="408.25" y2="171.2" stroke-width="0.7"/>
<text x="403.05" y="173.35" font-size="6.2" text-anchor="end">5.0</text>
<line x1="406.55" y1="163.15" x2="408.25" y2="163.15" stroke-width="0.7"/>
<text x="403.05" y="165.3" font-size="6.2" text-anchor="end">10.0</text>
<line x1="406.55" y1="155.1" x2="408.25" y2="155.1" stroke-width="0.7"/>
<text x="403.05" y="157.25" font-size="6.2" text-anchor="end">15.0</text>
<line x1="406.55" y1="147.05" x2="408.25" y2="147.05" stroke-width="0.7"/>
<text x="403.05" y="149.2" font-size="6.2" text-anchor="end">20.0</text>
<line x1="406.55" y1="139" x2="408.25" y2="139" stroke-width="0.7"/>
<text x="403.05" y="141.15" font-size="6.2" text-anchor="end">25.0</text>
<line x1="406.55" y1="130.95" x2="408.25" y2="130.95" stroke-width="0.7"/>
<text x="403.05" y="133.1" font-size="6.2" text-anchor="end">30.0</text>
<line x1="406.55" y1="122.9" x2="408.25" y2="122.9" stroke-width="0.7"/>
<text x="403.05" y="125.05" font-size="6.2" text-anchor="end">35.0</text>
<rect x="410.75" y="177.8" width="8.65" height="1.45"/>
<rect x="419.5" y="131.78" width="8.15" height="47.47" class="w"/>
<line x1="423.7" y1="131.43" x2="423.7" y2="126.28" stroke-width="0.75"/>
<line x1="421.4" y1="126.28" x2="426" y2="126.28" stroke-width="0.75"/>
<text x="423.7" y="122.6" font-size="5.8" text-anchor="middle">*</text>
<rect x="433.25" y="177.8" width="8.5" height="1.45"/>
<rect x="441.85" y="158.83" width="7.55" height="20.42" class="w"/>
<line x1="445.75" y1="158.48" x2="445.75" y2="157.68" stroke-width="0.75"/>
<line x1="443.45" y1="157.68" x2="448.05" y2="157.68" stroke-width="0.75"/>
<text x="445.75" y="155.95" font-size="5.8" text-anchor="middle">*</text>
<text x="445.75" y="148.25" font-size="5.4" text-anchor="middle">†</text>
<line x1="408.25" y1="122.55" x2="408.25" y2="190.25" stroke-width="0.8"/>
<line x1="407.85" y1="179.25" x2="453" y2="179.25" stroke-width="0.8"/>
<line x1="430.5" y1="179.25" x2="430.5" y2="190.25" stroke-width="0.8"/>
<line x1="452.6" y1="179.25" x2="452.6" y2="190.25" stroke-width="0.8"/>
<text x="419.57" y="188.45" font-size="6.3" text-anchor="middle">Vehicle</text>
<text x="441.75" y="188.45" font-size="6.3" text-anchor="middle">Astat</text>
</g>
<g>
<text x="496.5" y="113.45" font-size="6.3" text-anchor="middle">NRF-1</text>
<line x1="472.2" y1="178.6" x2="473.9" y2="178.6" stroke-width="0.7"/>
<text x="468.7" y="180.75" font-size="6.2" text-anchor="end">0.0</text>
<line x1="472.2" y1="169.18" x2="473.9" y2="169.18" stroke-width="0.7"/>
<text x="468.7" y="171.33" font-size="6.2" text-anchor="end">0.5</text>
<line x1="472.2" y1="159.77" x2="473.9" y2="159.77" stroke-width="0.7"/>
<text x="468.7" y="161.92" font-size="6.2" text-anchor="end">1.0</text>
<line x1="472.2" y1="150.35" x2="473.9" y2="150.35" stroke-width="0.7"/>
<text x="468.7" y="152.5" font-size="6.2" text-anchor="end">1.5</text>
<line x1="472.2" y1="140.93" x2="473.9" y2="140.93" stroke-width="0.7"/>
<text x="468.7" y="143.08" font-size="6.2" text-anchor="end">2.0</text>
<line x1="472.2" y1="131.52" x2="473.9" y2="131.52" stroke-width="0.7"/>
<text x="468.7" y="133.67" font-size="6.2" text-anchor="end">2.5</text>
<line x1="472.2" y1="122.1" x2="473.9" y2="122.1" stroke-width="0.7"/>
<text x="468.7" y="124.25" font-size="6.2" text-anchor="end">3.0</text>
<rect x="477.25" y="159.77" width="8.35" height="18.83"/>
<line x1="481.43" y1="159.77" x2="481.43" y2="158.82" stroke-width="0.75"/>
<line x1="479.12" y1="158.82" x2="483.73" y2="158.82" stroke-width="0.75"/>
<rect x="485.7" y="131.87" width="8.35" height="46.73" class="w"/>
<line x1="490" y1="131.52" x2="490" y2="124.55" stroke-width="0.75"/>
<line x1="487.7" y1="124.55" x2="492.3" y2="124.55" stroke-width="0.75"/>
<text x="490" y="120.45" font-size="5.8" text-anchor="middle">*</text>
<rect x="500" y="152.61" width="8.1" height="25.99"/>
<line x1="504.05" y1="152.61" x2="504.05" y2="148.84" stroke-width="0.75"/>
<line x1="501.75" y1="148.84" x2="506.35" y2="148.84" stroke-width="0.75"/>
<rect x="508.2" y="156.35" width="7.95" height="22.25" class="w"/>
<line x1="512.3" y1="156" x2="512.3" y2="155.06" stroke-width="0.75"/>
<line x1="510" y1="155.06" x2="514.6" y2="155.06" stroke-width="0.75"/>
<text x="512.3" y="152.15" font-size="5.4" text-anchor="middle">†</text>
<line x1="473.9" y1="121.75" x2="473.9" y2="189.9" stroke-width="0.8"/>
<line x1="473.5" y1="178.6" x2="520" y2="178.6" stroke-width="0.8"/>
<line x1="496.9" y1="178.6" x2="496.9" y2="189.9" stroke-width="0.8"/>
<line x1="519.6" y1="178.6" x2="519.6" y2="189.9" stroke-width="0.8"/>
<text x="485.6" y="187.8" font-size="6.3" text-anchor="middle">Vehicle</text>
<text x="508.45" y="187.8" font-size="6.3" text-anchor="middle">Astat</text>
</g>
<g>
<text x="53.1" y="206.65" font-size="6.3" text-anchor="middle">PPARα</text>
<line x1="29.1" y1="269.6" x2="30.8" y2="269.6" stroke-width="0.7"/>
<text x="25.6" y="271.75" font-size="6.2" text-anchor="end">0.0</text>
<line x1="29.1" y1="258.42" x2="30.8" y2="258.42" stroke-width="0.7"/>
<text x="25.6" y="260.57" font-size="6.2" text-anchor="end">0.5</text>
<line x1="29.1" y1="247.24" x2="30.8" y2="247.24" stroke-width="0.7"/>
<text x="25.6" y="249.39" font-size="6.2" text-anchor="end">1.0</text>
<line x1="29.1" y1="236.06" x2="30.8" y2="236.06" stroke-width="0.7"/>
<text x="25.6" y="238.21" font-size="6.2" text-anchor="end">1.5</text>
<line x1="29.1" y1="224.88" x2="30.8" y2="224.88" stroke-width="0.7"/>
<text x="25.6" y="227.03" font-size="6.2" text-anchor="end">2.0</text>
<line x1="29.1" y1="213.7" x2="30.8" y2="213.7" stroke-width="0.7"/>
<text x="25.6" y="215.85" font-size="6.2" text-anchor="end">2.5</text>
<rect x="33.75" y="247.24" width="8.15" height="22.36"/>
<rect x="42" y="229.7" width="8.05" height="39.9" class="w"/>
<line x1="46.15" y1="229.35" x2="46.15" y2="226.89" stroke-width="0.75"/>
<line x1="43.85" y1="226.89" x2="48.45" y2="226.89" stroke-width="0.75"/>
<text x="46.15" y="224.75" font-size="5.8" text-anchor="middle">*</text>
<rect x="56" y="247.91" width="8.4" height="21.69"/>
<line x1="60.2" y1="247.91" x2="60.2" y2="247.24" stroke-width="0.75"/>
<line x1="57.9" y1="247.24" x2="62.5" y2="247.24" stroke-width="0.75"/>
<rect x="64.5" y="250.94" width="7.65" height="18.66" class="w"/>
<line x1="68.45" y1="250.59" x2="68.45" y2="249.7" stroke-width="0.75"/>
<line x1="66.15" y1="249.7" x2="70.75" y2="249.7" stroke-width="0.75"/>
<text x="68.45" y="245.95" font-size="5.4" text-anchor="middle">†</text>
<line x1="30.8" y1="213.35" x2="30.8" y2="287.25" stroke-width="0.8"/>
<line x1="30.4" y1="269.6" x2="75.65" y2="269.6" stroke-width="0.8"/>
<line x1="52.9" y1="269.6" x2="52.9" y2="287.25" stroke-width="0.8"/>
<line x1="75.25" y1="269.6" x2="75.25" y2="287.25" stroke-width="0.8"/>
<text x="41.95" y="279.15" font-size="6.12" text-anchor="middle">Cont.</text>
<text x="41.95" y="286.15" font-size="6.12" text-anchor="middle">shRNA</text>
<text x="64.17" y="279.15" font-size="6.12" text-anchor="middle">ATGL</text>
<text x="64.17" y="286.15" font-size="6.12" text-anchor="middle">shRNA</text>
</g>
<g>
<text x="114.25" y="207.95" font-size="6.3" text-anchor="middle">ACSL1</text>
<line x1="91.2" y1="271.3" x2="92.9" y2="271.3" stroke-width="0.7"/>
<text x="87.7" y="273.45" font-size="6.2" text-anchor="end">0.0</text>
<line x1="91.2" y1="260.16" x2="92.9" y2="260.16" stroke-width="0.7"/>
<text x="87.7" y="262.31" font-size="6.2" text-anchor="end">0.5</text>
<line x1="91.2" y1="249.02" x2="92.9" y2="249.02" stroke-width="0.7"/>
<text x="87.7" y="251.17" font-size="6.2" text-anchor="end">1.0</text>
<line x1="91.2" y1="237.88" x2="92.9" y2="237.88" stroke-width="0.7"/>
<text x="87.7" y="240.03" font-size="6.2" text-anchor="end">1.5</text>
<line x1="91.2" y1="226.74" x2="92.9" y2="226.74" stroke-width="0.7"/>
<text x="87.7" y="228.89" font-size="6.2" text-anchor="end">2.0</text>
<line x1="91.2" y1="215.6" x2="92.9" y2="215.6" stroke-width="0.7"/>
<text x="87.7" y="217.75" font-size="6.2" text-anchor="end">2.5</text>
<rect x="95.5" y="249.02" width="8.1" height="22.28"/>
<line x1="99.55" y1="249.02" x2="99.55" y2="248.35" stroke-width="0.75"/>
<line x1="97.25" y1="248.35" x2="101.85" y2="248.35" stroke-width="0.75"/>
<rect x="103.7" y="221.52" width="7.7" height="49.78" class="w"/>
<line x1="107.67" y1="221.17" x2="107.67" y2="220.28" stroke-width="0.75"/>
<line x1="105.38" y1="220.28" x2="109.97" y2="220.28" stroke-width="0.75"/>
<text x="107.67" y="216.95" font-size="5.8" text-anchor="middle">*</text>
<rect x="117" y="247.91" width="8.25" height="23.39"/>
<line x1="121.12" y1="247.91" x2="121.12" y2="246.12" stroke-width="0.75"/>
<line x1="118.83" y1="246.12" x2="123.42" y2="246.12" stroke-width="0.75"/>
<rect x="125.35" y="237.78" width="7.55" height="33.52" class="w"/>
<line x1="129.25" y1="237.43" x2="129.25" y2="236.77" stroke-width="0.75"/>
<line x1="126.95" y1="236.77" x2="131.55" y2="236.77" stroke-width="0.75"/>
<text x="129.25" y="233.25" font-size="5.8" text-anchor="middle">*</text>
<text x="129.25" y="225.8" font-size="5.4" text-anchor="middle">†</text>
<line x1="92.9" y1="215.25" x2="92.9" y2="288.75" stroke-width="0.8"/>
<line x1="92.5" y1="271.3" x2="136.15" y2="271.3" stroke-width="0.8"/>
<line x1="114.25" y1="271.3" x2="114.25" y2="288.75" stroke-width="0.8"/>
<line x1="135.75" y1="271.3" x2="135.75" y2="288.75" stroke-width="0.8"/>
<text x="103.67" y="280.85" font-size="6.12" text-anchor="middle">Cont.</text>
<text x="103.67" y="287.85" font-size="6.12" text-anchor="middle">shRNA</text>
<text x="125.1" y="280.85" font-size="6.12" text-anchor="middle">ATGL</text>
<text x="125.1" y="287.85" font-size="6.12" text-anchor="middle">shRNA</text>
</g>
<g>
<text x="174.9" y="207.2" font-size="6.3" text-anchor="middle">ACOT1</text>
<line x1="151.4" y1="270.2" x2="153.1" y2="270.2" stroke-width="0.7"/>
<text x="147.9" y="272.35" font-size="6.2" text-anchor="end">0.0</text>
<line x1="151.4" y1="251.7" x2="153.1" y2="251.7" stroke-width="0.7"/>
<text x="147.9" y="253.85" font-size="6.2" text-anchor="end">0.5</text>
<line x1="151.4" y1="233.2" x2="153.1" y2="233.2" stroke-width="0.7"/>
<text x="147.9" y="235.35" font-size="6.2" text-anchor="end">1.0</text>
<line x1="151.4" y1="214.7" x2="153.1" y2="214.7" stroke-width="0.7"/>
<text x="147.9" y="216.85" font-size="6.2" text-anchor="end">1.5</text>
<rect x="156.1" y="233.2" width="8.3" height="37"/>
<rect x="164.5" y="221.86" width="7.55" height="48.34" class="w"/>
<line x1="168.4" y1="221.51" x2="168.4" y2="218.55" stroke-width="0.75"/>
<line x1="166.1" y1="218.55" x2="170.7" y2="218.55" stroke-width="0.75"/>
<text x="168.4" y="216.05" font-size="5.8" text-anchor="middle">*</text>
<rect x="178" y="238.38" width="8.1" height="31.82"/>
<line x1="182.05" y1="238.38" x2="182.05" y2="235.79" stroke-width="0.75"/>
<line x1="179.75" y1="235.79" x2="184.35" y2="235.79" stroke-width="0.75"/>
<rect x="186.2" y="239.84" width="7.05" height="30.36" class="w"/>
<line x1="189.85" y1="239.49" x2="189.85" y2="234.68" stroke-width="0.75"/>
<line x1="187.55" y1="234.68" x2="192.15" y2="234.68" stroke-width="0.75"/>
<text x="190.75" y="230.75" font-size="5.4" text-anchor="middle">†</text>
<line x1="153.1" y1="214.35" x2="153.1" y2="288.1" stroke-width="0.8"/>
<line x1="152.7" y1="270.2" x2="196.9" y2="270.2" stroke-width="0.8"/>
<line x1="175.1" y1="270.2" x2="175.1" y2="288.1" stroke-width="0.8"/>
<line x1="196.5" y1="270.2" x2="196.5" y2="288.1" stroke-width="0.8"/>
<text x="164.2" y="279.75" font-size="6.12" text-anchor="middle">Cont.</text>
<text x="164.2" y="286.75" font-size="6.12" text-anchor="middle">shRNA</text>
<text x="185.9" y="279.75" font-size="6.12" text-anchor="middle">ATGL</text>
<text x="185.9" y="286.75" font-size="6.12" text-anchor="middle">shRNA</text>
</g>
<g>
<text x="237.5" y="207.45" font-size="6.3" text-anchor="middle">CPT1α</text>
<line x1="212.9" y1="270" x2="214.6" y2="270" stroke-width="0.7"/>
<text x="209.4" y="272.15" font-size="6.2" text-anchor="end">0.0</text>
<line x1="212.9" y1="256.12" x2="214.6" y2="256.12" stroke-width="0.7"/>
<text x="209.4" y="258.27" font-size="6.2" text-anchor="end">1.0</text>
<line x1="212.9" y1="242.25" x2="214.6" y2="242.25" stroke-width="0.7"/>
<text x="209.4" y="244.4" font-size="6.2" text-anchor="end">2.0</text>
<line x1="212.9" y1="228.38" x2="214.6" y2="228.38" stroke-width="0.7"/>
<text x="209.4" y="230.53" font-size="6.2" text-anchor="end">3.0</text>
<line x1="212.9" y1="214.5" x2="214.6" y2="214.5" stroke-width="0.7"/>
<text x="209.4" y="216.65" font-size="6.2" text-anchor="end">4.0</text>
<rect x="217.75" y="256.12" width="8.5" height="13.88"/>
<line x1="222" y1="256.12" x2="222" y2="255.71" stroke-width="0.75"/>
<line x1="219.7" y1="255.71" x2="224.3" y2="255.71" stroke-width="0.75"/>
<rect x="226.35" y="224.01" width="8.05" height="45.99" class="w"/>
<line x1="230.5" y1="223.66" x2="230.5" y2="221.16" stroke-width="0.75"/>
<line x1="228.2" y1="221.16" x2="232.8" y2="221.16" stroke-width="0.75"/>
<text x="230.5" y="219.25" font-size="5.8" text-anchor="middle">*</text>
<rect x="240.6" y="249.19" width="8.4" height="20.81"/>
<line x1="244.8" y1="249.19" x2="244.8" y2="248.49" stroke-width="0.75"/>
<line x1="242.5" y1="248.49" x2="247.1" y2="248.49" stroke-width="0.75"/>
<rect x="249.1" y="238.44" width="8.05" height="31.56" class="w"/>
<line x1="253.25" y1="238.09" x2="253.25" y2="237.67" stroke-width="0.75"/>
<line x1="250.95" y1="237.67" x2="255.55" y2="237.67" stroke-width="0.75"/>
<text x="253.25" y="235.25" font-size="5.8" text-anchor="middle">*</text>
<text x="253.25" y="228.35" font-size="5.4" text-anchor="middle">†</text>
<line x1="214.6" y1="214.15" x2="214.6" y2="288.1" stroke-width="0.8"/>
<line x1="214.2" y1="270" x2="260.4" y2="270" stroke-width="0.8"/>
<line x1="237.25" y1="270" x2="237.25" y2="288.1" stroke-width="0.8"/>
<line x1="260" y1="270" x2="260" y2="288.1" stroke-width="0.8"/>
<text x="226.03" y="279.55" font-size="6.12" text-anchor="middle">Cont.</text>
<text x="226.03" y="286.55" font-size="6.12" text-anchor="middle">shRNA</text>
<text x="248.72" y="279.55" font-size="6.12" text-anchor="middle">ATGL</text>
<text x="248.72" y="286.55" font-size="6.12" text-anchor="middle">shRNA</text>
</g>
<g>
<text x="300.9" y="207.85" font-size="6.3" text-anchor="middle">CYP4a10</text>
<line x1="275.7" y1="270.9" x2="277.4" y2="270.9" stroke-width="0.7"/>
<text x="272.2" y="273.05" font-size="6.2" text-anchor="end">0.0</text>
<line x1="275.7" y1="261.55" x2="277.4" y2="261.55" stroke-width="0.7"/>
<text x="272.2" y="263.7" font-size="6.2" text-anchor="end">0.5</text>
<line x1="275.7" y1="252.2" x2="277.4" y2="252.2" stroke-width="0.7"/>
<text x="272.2" y="254.35" font-size="6.2" text-anchor="end">1.0</text>
<line x1="275.7" y1="242.85" x2="277.4" y2="242.85" stroke-width="0.7"/>
<text x="272.2" y="245" font-size="6.2" text-anchor="end">1.5</text>
<line x1="275.7" y1="233.5" x2="277.4" y2="233.5" stroke-width="0.7"/>
<text x="272.2" y="235.65" font-size="6.2" text-anchor="end">2.0</text>
<line x1="275.7" y1="224.15" x2="277.4" y2="224.15" stroke-width="0.7"/>
<text x="272.2" y="226.3" font-size="6.2" text-anchor="end">2.5</text>
<line x1="275.7" y1="214.8" x2="277.4" y2="214.8" stroke-width="0.7"/>
<text x="272.2" y="216.95" font-size="6.2" text-anchor="end">3.0</text>
<rect x="280.5" y="252.2" width="8.75" height="18.7"/>
<line x1="284.88" y1="252.2" x2="284.88" y2="251.64" stroke-width="0.75"/>
<line x1="282.57" y1="251.64" x2="287.18" y2="251.64" stroke-width="0.75"/>
<rect x="289.35" y="228.43" width="8.1" height="42.47" class="w"/>
<line x1="293.52" y1="228.08" x2="293.52" y2="223.87" stroke-width="0.75"/>
<line x1="291.22" y1="223.87" x2="295.82" y2="223.87" stroke-width="0.75"/>
<text x="293.52" y="221.35" font-size="5.8" text-anchor="middle">*</text>
<rect x="304.25" y="261.92" width="8.75" height="8.98"/>
<line x1="308.62" y1="261.92" x2="308.62" y2="261.36" stroke-width="0.75"/>
<line x1="306.32" y1="261.36" x2="310.93" y2="261.36" stroke-width="0.75"/>
<rect x="313.1" y="260.59" width="7.95" height="10.31" class="w"/>
<line x1="317.2" y1="260.24" x2="317.2" y2="259.87" stroke-width="0.75"/>
<line x1="314.9" y1="259.87" x2="319.5" y2="259.87" stroke-width="0.75"/>
<text x="317.2" y="256.12" font-size="5.4" text-anchor="middle">†</text>
<line x1="277.4" y1="214.45" x2="277.4" y2="288.75" stroke-width="0.8"/>
<line x1="277" y1="270.9" x2="324.65" y2="270.9" stroke-width="0.8"/>
<line x1="300.75" y1="270.9" x2="300.75" y2="288.75" stroke-width="0.8"/>
<line x1="324.25" y1="270.9" x2="324.25" y2="288.75" stroke-width="0.8"/>
<text x="289.18" y="280.45" font-size="6.12" text-anchor="middle">Cont.</text>
<text x="289.18" y="287.45" font-size="6.12" text-anchor="middle">shRNA</text>
<text x="312.6" y="280.45" font-size="6.12" text-anchor="middle">ATGL</text>
<text x="312.6" y="287.45" font-size="6.12" text-anchor="middle">shRNA</text>
</g>
<g>
<text x="364.5" y="208.65" font-size="6.3" text-anchor="middle">CYP4a14</text>
<line x1="340.55" y1="271.5" x2="342.25" y2="271.5" stroke-width="0.7"/>
<text x="337.05" y="273.65" font-size="6.2" text-anchor="end">0.0</text>
<line x1="340.55" y1="253.03" x2="342.25" y2="253.03" stroke-width="0.7"/>
<text x="337.05" y="255.18" font-size="6.2" text-anchor="end">0.5</text>
<line x1="340.55" y1="234.57" x2="342.25" y2="234.57" stroke-width="0.7"/>
<text x="337.05" y="236.72" font-size="6.2" text-anchor="end">1.0</text>
<line x1="340.55" y1="216.1" x2="342.25" y2="216.1" stroke-width="0.7"/>
<text x="337.05" y="218.25" font-size="6.2" text-anchor="end">1.5</text>
<rect x="345.1" y="234.57" width="8.7" height="36.93"/>
<line x1="349.45" y1="234.57" x2="349.45" y2="232.72" stroke-width="0.75"/>
<line x1="347.15" y1="232.72" x2="351.75" y2="232.72" stroke-width="0.75"/>
<rect x="353.9" y="221.44" width="7.95" height="50.06" class="w"/>
<line x1="358" y1="221.09" x2="358" y2="219.05" stroke-width="0.75"/>
<line x1="355.7" y1="219.05" x2="360.3" y2="219.05" stroke-width="0.75"/>
<text x="358" y="217.35" font-size="5.8" text-anchor="middle">*</text>
<rect x="367.6" y="243.8" width="8.4" height="27.7"/>
<rect x="376.1" y="252.46" width="8.05" height="19.04" class="w"/>
<line x1="380.25" y1="252.11" x2="380.25" y2="251.37" stroke-width="0.75"/>
<line x1="377.95" y1="251.37" x2="382.55" y2="251.37" stroke-width="0.75"/>
<text x="380.25" y="247.62" font-size="5.4" text-anchor="middle">†</text>
<line x1="342.25" y1="215.75" x2="342.25" y2="289.4" stroke-width="0.8"/>
<line x1="341.85" y1="271.5" x2="387.65" y2="271.5" stroke-width="0.8"/>
<line x1="364.75" y1="271.5" x2="364.75" y2="289.4" stroke-width="0.8"/>
<line x1="387.25" y1="271.5" x2="387.25" y2="289.4" stroke-width="0.8"/>
<text x="353.6" y="281.05" font-size="6.12" text-anchor="middle">Cont.</text>
<text x="353.6" y="288.05" font-size="6.12" text-anchor="middle">shRNA</text>
<text x="376.1" y="281.05" font-size="6.12" text-anchor="middle">ATGL</text>
<text x="376.1" y="288.05" font-size="6.12" text-anchor="middle">shRNA</text>
</g>
<g>
<text x="431.8" y="208.05" font-size="6.3" text-anchor="middle">PGC-1α</text>
<line x1="406.8" y1="271" x2="408.5" y2="271" stroke-width="0.7"/>
<text x="403.3" y="273.15" font-size="6.2" text-anchor="end">0.0</text>
<line x1="406.8" y1="259.84" x2="408.5" y2="259.84" stroke-width="0.7"/>
<text x="403.3" y="261.99" font-size="6.2" text-anchor="end">5.0</text>
<line x1="406.8" y1="248.68" x2="408.5" y2="248.68" stroke-width="0.7"/>
<text x="403.3" y="250.83" font-size="6.2" text-anchor="end">10.0</text>
<line x1="406.8" y1="237.52" x2="408.5" y2="237.52" stroke-width="0.7"/>
<text x="403.3" y="239.67" font-size="6.2" text-anchor="end">15.0</text>
<line x1="406.8" y1="226.36" x2="408.5" y2="226.36" stroke-width="0.7"/>
<text x="403.3" y="228.51" font-size="6.2" text-anchor="end">20.0</text>
<line x1="406.8" y1="215.2" x2="408.5" y2="215.2" stroke-width="0.7"/>
<text x="403.3" y="217.35" font-size="6.2" text-anchor="end">25.0</text>
<rect x="411.75" y="268.99" width="8.65" height="2.01"/>
<rect x="420.5" y="226.93" width="8.05" height="44.07" class="w"/>
<line x1="424.65" y1="226.58" x2="424.65" y2="223.46" stroke-width="0.75"/>
<line x1="422.35" y1="223.46" x2="426.95" y2="223.46" stroke-width="0.75"/>
<text x="424.65" y="221.1" font-size="5.8" text-anchor="middle">*</text>
<rect x="434.5" y="270.11" width="8.75" height="0.89"/>
<rect x="443.35" y="244.57" width="8.05" height="26.43" class="w"/>
<line x1="447.5" y1="244.22" x2="447.5" y2="242.43" stroke-width="0.75"/>
<line x1="445.2" y1="242.43" x2="449.8" y2="242.43" stroke-width="0.75"/>
<text x="447.5" y="241.05" font-size="5.8" text-anchor="middle">*</text>
<text x="447.5" y="232.95" font-size="5.4" text-anchor="middle">†</text>
<line x1="408.5" y1="214.85" x2="408.5" y2="288.75" stroke-width="0.8"/>
<line x1="408.1" y1="271" x2="454.9" y2="271" stroke-width="0.8"/>
<line x1="431.75" y1="271" x2="431.75" y2="288.75" stroke-width="0.8"/>
<line x1="454.5" y1="271" x2="454.5" y2="288.75" stroke-width="0.8"/>
<text x="420.23" y="280.55" font-size="6.12" text-anchor="middle">Cont.</text>
<text x="420.23" y="287.55" font-size="6.12" text-anchor="middle">shRNA</text>
<text x="443.23" y="280.55" font-size="6.12" text-anchor="middle">ATGL</text>
<text x="443.23" y="287.55" font-size="6.12" text-anchor="middle">shRNA</text>
</g>
<g>
<text x="496.5" y="208.25" font-size="6.3" text-anchor="middle">NRF1</text>
<line x1="473.05" y1="271.25" x2="474.75" y2="271.25" stroke-width="0.7"/>
<text x="469.55" y="273.4" font-size="6.2" text-anchor="end">0.0</text>
<line x1="473.05" y1="263.3" x2="474.75" y2="263.3" stroke-width="0.7"/>
<text x="469.55" y="265.45" font-size="6.2" text-anchor="end">1.0</text>
<line x1="473.05" y1="255.35" x2="474.75" y2="255.35" stroke-width="0.7"/>
<text x="469.55" y="257.5" font-size="6.2" text-anchor="end">2.0</text>
<line x1="473.05" y1="247.4" x2="474.75" y2="247.4" stroke-width="0.7"/>
<text x="469.55" y="249.55" font-size="6.2" text-anchor="end">3.0</text>
<line x1="473.05" y1="239.45" x2="474.75" y2="239.45" stroke-width="0.7"/>
<text x="469.55" y="241.6" font-size="6.2" text-anchor="end">4.0</text>
<line x1="473.05" y1="231.5" x2="474.75" y2="231.5" stroke-width="0.7"/>
<text x="469.55" y="233.65" font-size="6.2" text-anchor="end">5.0</text>
<line x1="473.05" y1="223.55" x2="474.75" y2="223.55" stroke-width="0.7"/>
<text x="469.55" y="225.7" font-size="6.2" text-anchor="end">6.0</text>
<line x1="473.05" y1="215.6" x2="474.75" y2="215.6" stroke-width="0.7"/>
<text x="469.55" y="217.75" font-size="6.2" text-anchor="end">7.0</text>
<rect x="477.5" y="263.06" width="8.75" height="8.19"/>
<line x1="481.88" y1="263.06" x2="481.88" y2="262.66" stroke-width="0.75"/>
<line x1="479.57" y1="262.66" x2="484.18" y2="262.66" stroke-width="0.75"/>
<rect x="486.35" y="233.92" width="8.05" height="37.33" class="w"/>
<line x1="490.5" y1="233.57" x2="490.5" y2="224.19" stroke-width="0.75"/>
<line x1="488.2" y1="224.19" x2="492.8" y2="224.19" stroke-width="0.75"/>
<text x="490.5" y="221.95" font-size="5.8" text-anchor="middle">*</text>
<rect x="500" y="264.33" width="8.5" height="6.92"/>
<line x1="504.25" y1="264.33" x2="504.25" y2="263.94" stroke-width="0.75"/>
<line x1="501.95" y1="263.94" x2="506.55" y2="263.94" stroke-width="0.75"/>
<rect x="508.6" y="262.22" width="7.55" height="9.03" class="w"/>
<line x1="512.5" y1="261.87" x2="512.5" y2="261.47" stroke-width="0.75"/>
<line x1="510.2" y1="261.47" x2="514.8" y2="261.47" stroke-width="0.75"/>
<text x="512.5" y="256.15" font-size="5.4" text-anchor="middle">†</text>
<line x1="474.75" y1="215.25" x2="474.75" y2="288.75" stroke-width="0.8"/>
<line x1="474.35" y1="271.25" x2="518.5" y2="271.25" stroke-width="0.8"/>
<line x1="497.25" y1="271.25" x2="497.25" y2="288.75" stroke-width="0.8"/>
<line x1="518.1" y1="271.25" x2="518.1" y2="288.75" stroke-width="0.8"/>
<text x="486.1" y="280.8" font-size="6.12" text-anchor="middle">Cont.</text>
<text x="486.1" y="287.8" font-size="6.12" text-anchor="middle">shRNA</text>
<text x="507.78" y="280.8" font-size="6.12" text-anchor="middle">ATGL</text>
<text x="507.78" y="287.8" font-size="6.12" text-anchor="middle">shRNA</text>
</g>
<text transform="translate(7.1,53.8) rotate(-90)" font-size="6.15" text-anchor="middle">Relative mRNA</text>
<text transform="translate(12.9,54.9) rotate(-90)" font-size="5.65" text-anchor="middle">abundance</text>
<text transform="translate(6.8,149.0) rotate(-90)" font-size="6.15" text-anchor="middle">Relative mRNA</text>
<text transform="translate(12.6,150.1) rotate(-90)" font-size="5.65" text-anchor="middle">abundance</text>
<text transform="translate(6.7,241.8) rotate(-90)" font-size="6.15" text-anchor="middle">Relative mRNA</text>
<text transform="translate(12.5,242.9) rotate(-90)" font-size="5.65" text-anchor="middle">abundance</text>
<text x="0.5" y="23.4" font-size="14.2" font-weight="bold">A</text>
<text x="0.5" y="118.9" font-size="13.9" font-weight="bold">B</text>
<text x="0.5" y="212.2" font-size="14.2" font-weight="bold">C</text>
<rect x="230.6" y="1.9" width="4.7" height="4.6"/>
<text x="236.1" y="6.5" font-size="7.65">Vehicle</text>
<rect x="269.9" y="2.2" width="4.0" height="4.0" class="w"/>
<text x="274.9" y="6.5" font-size="7.65">cAMP</text>
</g>
</svg>
</body>
</html>
